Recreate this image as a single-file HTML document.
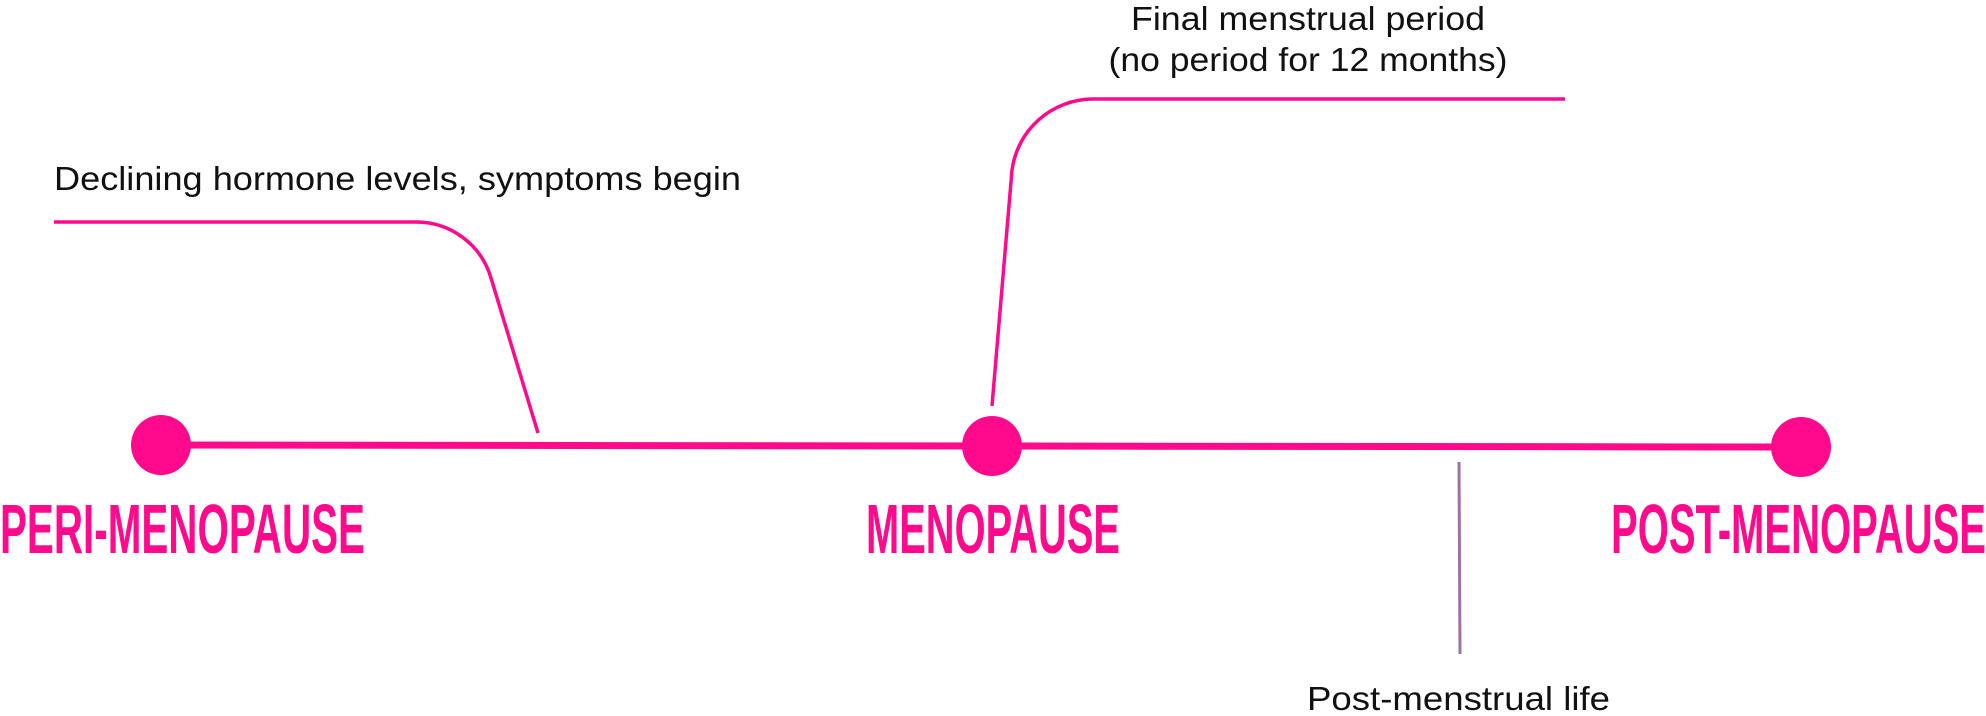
<!DOCTYPE html>
<html><head><meta charset="utf-8"><style>html,body{margin:0;padding:0;background:#fff;}svg{display:block}</style></head>
<body>
<svg width="1986" height="716" viewBox="0 0 1986 716" xmlns="http://www.w3.org/2000/svg">
<line x1="161" y1="445" x2="1801" y2="447" stroke="#ff0a8c" stroke-width="7"/>
<circle cx="161" cy="445" r="30" fill="#ff0a8c"/>
<circle cx="992" cy="446" r="30" fill="#ff0a8c"/>
<circle cx="1801" cy="447" r="30" fill="#ff0a8c"/>
<path d="M54 222 H415 A78 78 0 0 1 491 278 L538 433" fill="none" stroke="#ff0a8c" stroke-width="3.5"/>
<path d="M1565 99 H1092 A82 82 0 0 0 1012 170 L992 406" fill="none" stroke="#ff0a8c" stroke-width="3.5"/>
<line x1="1459" y1="462" x2="1460" y2="654" stroke="#9b72a0" stroke-width="3"/>
<g font-family="Liberation Sans Narrow, Liberation Sans, sans-serif" font-weight="bold" fill="#ff0a8c" font-size="70">
<text x="0" y="553" textLength="365" lengthAdjust="spacingAndGlyphs">PERI-MENOPAUSE</text>
<text x="866" y="553" textLength="254" lengthAdjust="spacingAndGlyphs">MENOPAUSE</text>
<text x="1611" y="553" textLength="375" lengthAdjust="spacingAndGlyphs">POST-MENOPAUSE</text>
</g>
<g font-family="Liberation Sans, sans-serif" fill="#111" font-size="33">
<text x="54" y="190" textLength="687" lengthAdjust="spacingAndGlyphs">Declining hormone levels, symptoms begin</text>
<text x="1308" y="30" text-anchor="middle" textLength="354" lengthAdjust="spacingAndGlyphs">Final menstrual period</text>
<text x="1308" y="71" text-anchor="middle" textLength="399" lengthAdjust="spacingAndGlyphs">(no period for 12 months)</text>
<text x="1307" y="710" textLength="303" lengthAdjust="spacingAndGlyphs">Post-menstrual life</text>
</g>
</svg>
</body></html>
